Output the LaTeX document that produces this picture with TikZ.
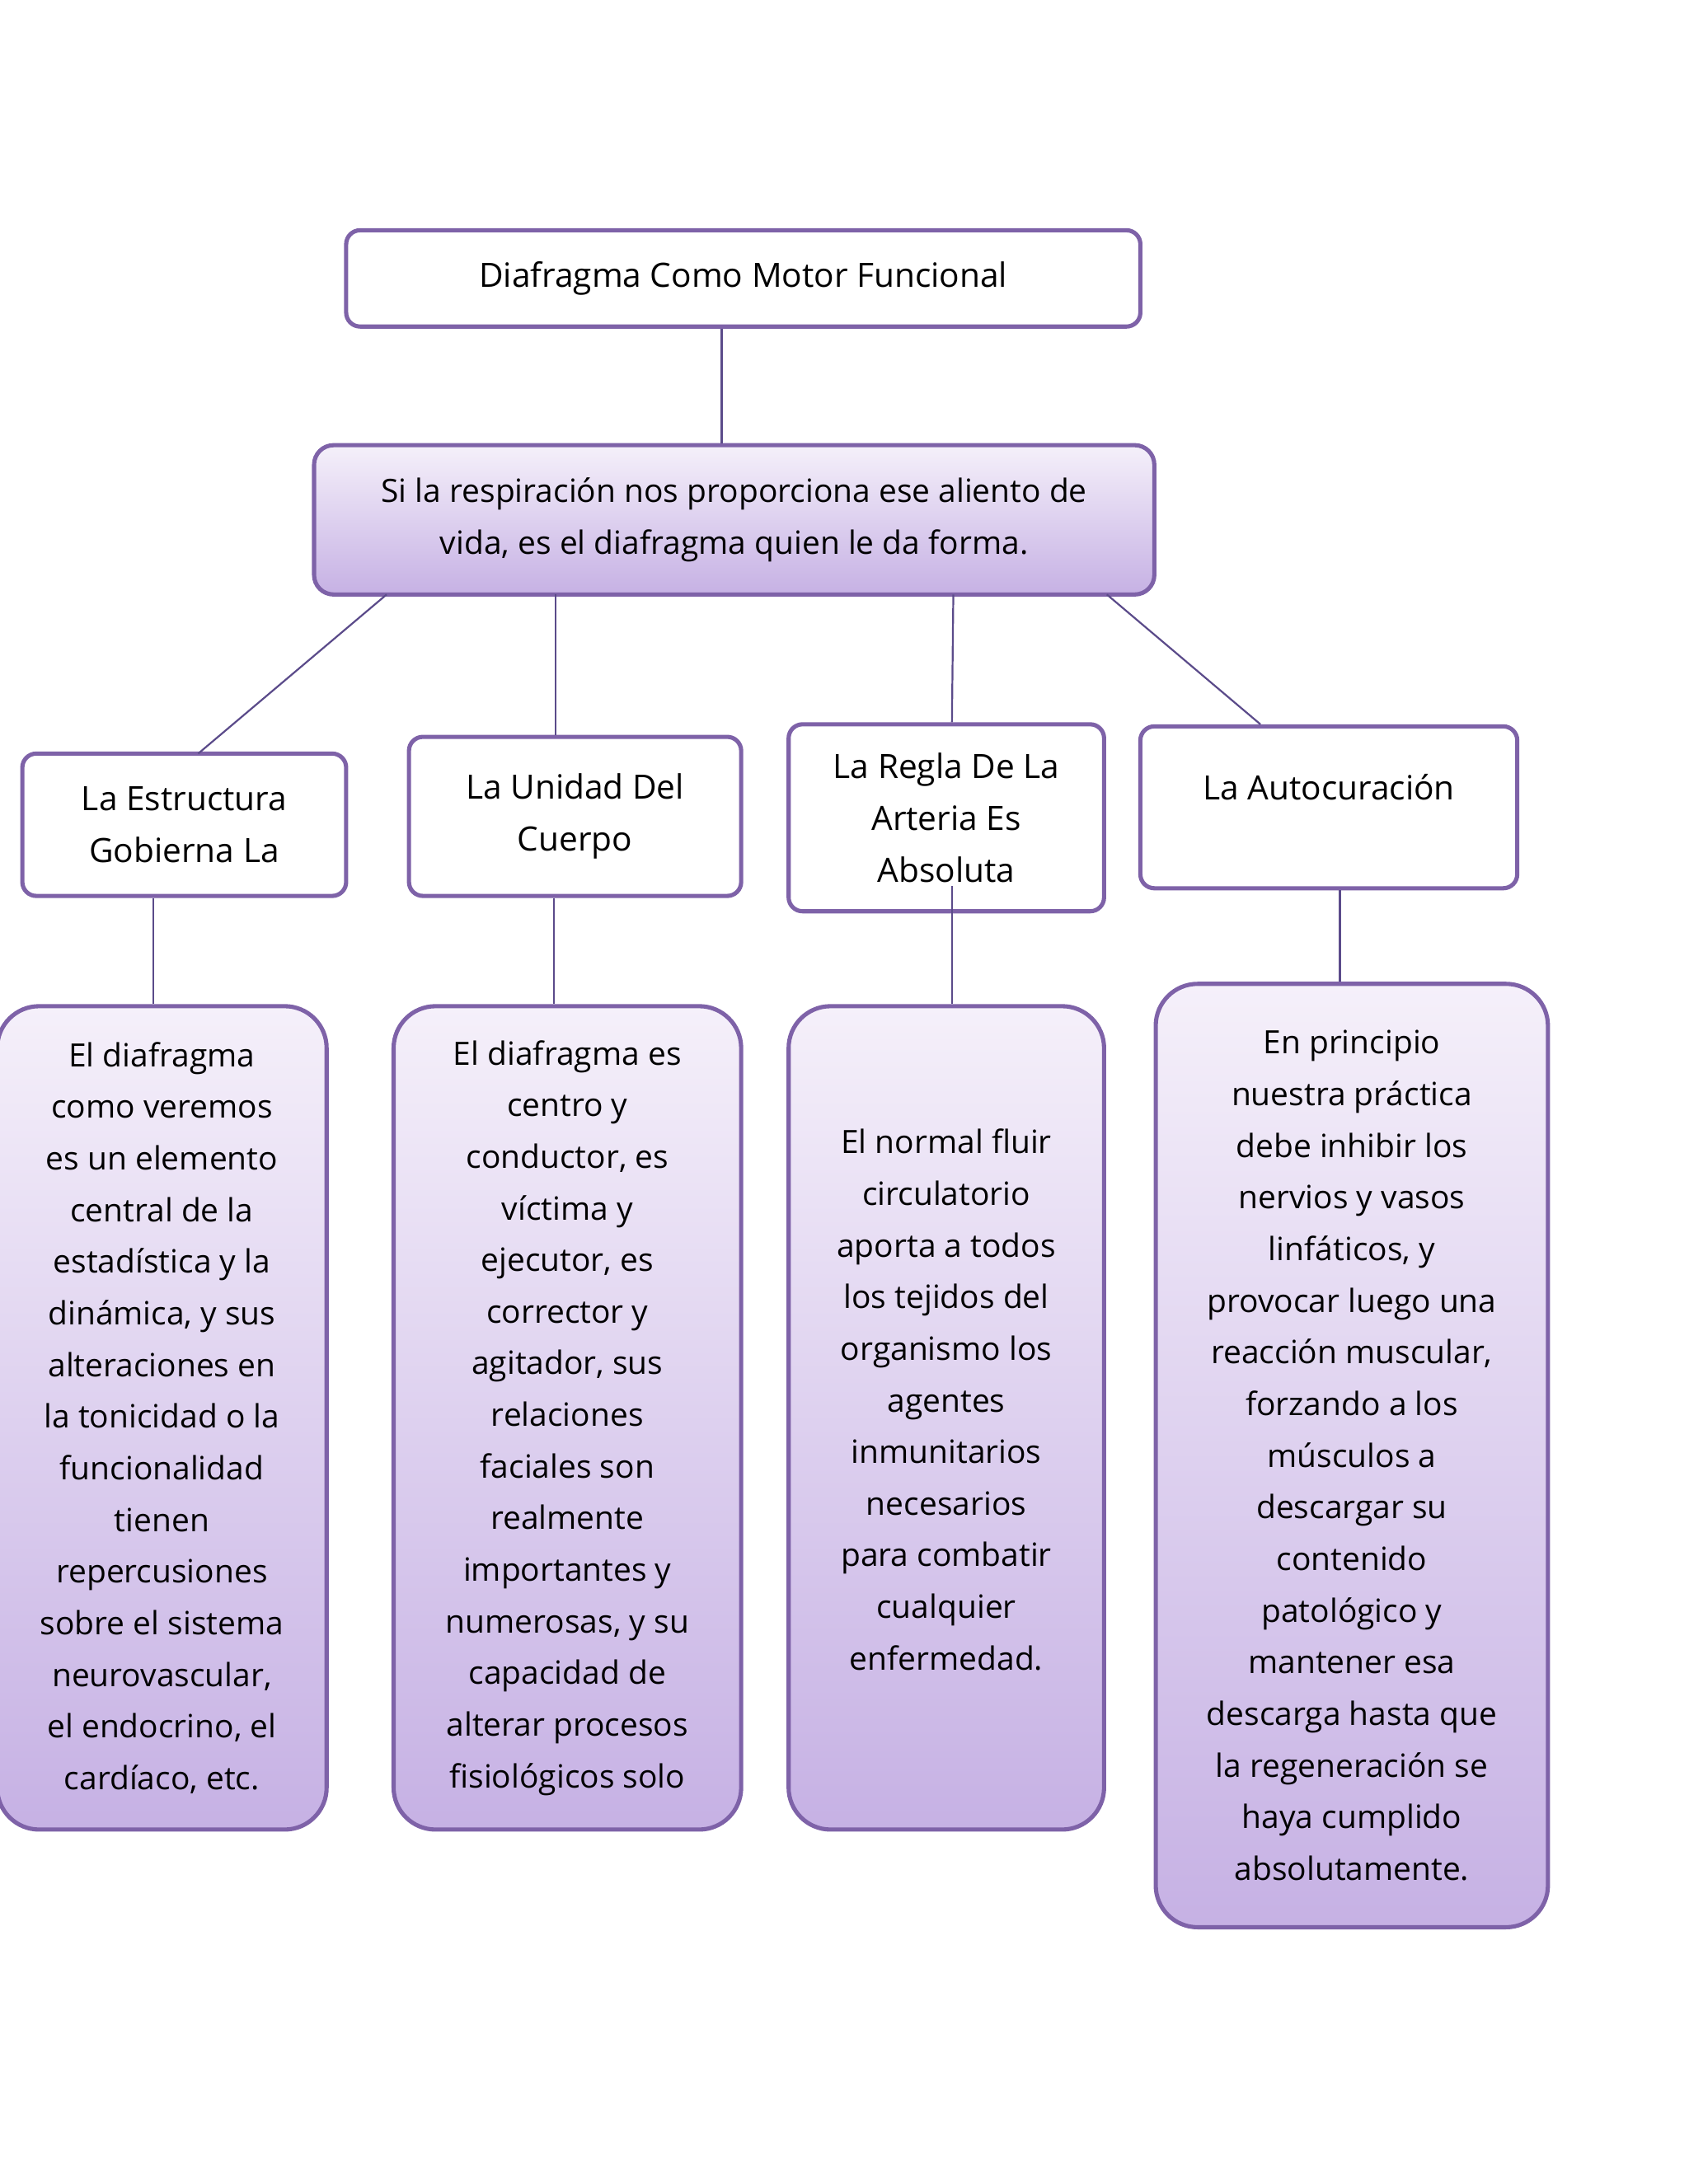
\documentclass[tikz,border=0pt]{standalone}
\usepackage{fontspec}
\setmainfont{Open Sans}
\begin{document}
\begin{tikzpicture}[x=1pt,y=-1pt,
  bd/.style={draw=bcol,line width=3pt,rounded corners=10pt,align=center,inner sep=0pt},
  wb/.style={bd,fill=white,font=\fontsize{24}{37}\selectfont},
  gb/.style={bd,rounded corners=30pt,top color=gtop,bottom color=gbot,font=\fontsize{23}{37}\selectfont},
  ln/.style={draw=lcol,line width=1.3pt}]
\definecolor{bcol}{HTML}{7E62A8}
\definecolor{lcol}{HTML}{5B4B8A}
\definecolor{gtop}{HTML}{F5F0FA}
\definecolor{gbot}{HTML}{C6B1E4}
\useasboundingbox (0,0) rectangle (1210,1565);
\fill[white] (0,0) rectangle (1210,1565);
\node[wb,minimum width=569pt,minimum height=69pt] (t) at (532.5,199.5) {Diafragma Como Motor Funcional};
\node[bd,rounded corners=14pt,top color=gtop,bottom color=gbot,minimum width=602pt,minimum height=107pt,font=\fontsize{23}{37}\selectfont] (s) at (526,372.5) {Si la respiración nos proporciona ese aliento de\\vida, es el diafragma quien le da forma.};
\node[wb,minimum width=232pt,minimum height=102pt] (a) at (132,591) {La Estructura\\Gobierna La};
\node[wb,minimum width=238pt,minimum height=114pt] (b) at (412,585) {La Unidad Del\\Cuerpo};
\node[wb,minimum width=226pt,minimum height=134pt] (c) at (678,586) {La Regla De La\\Arteria Es\\Absoluta};
\node[wb,minimum width=270pt,minimum height=116pt,anchor=north] (d) at (952,519) {};
\node[font=\fontsize{24}{37}\selectfont] at (952,564) {La Autocuración};
\node[gb,minimum width=236pt,minimum height=590pt] (a3) at (116,1016) {El diafragma\\como veremos\\es un  elemento\\central de la\\estadística y la\\dinámica, y sus\\alteraciones en\\la tonicidad o la\\funcionalidad\\tienen\\repercusiones\\sobre el sistema\\neurovascular,\\el endocrino, el\\cardíaco, etc.};
\node[gb,minimum width=249pt,minimum height=590pt] (b3) at (406.5,1016) {El diafragma es\\centro y\\conductor, es\\víctima y\\ejecutor, es\\corrector y\\agitador, sus\\relaciones\\faciales son\\realmente\\importantes y\\numerosas, y su\\capacidad de\\alterar procesos\\fisiológicos solo};
\node[gb,minimum width=226pt,minimum height=590pt] (c3) at (678,1016) {};
\node[font=\fontsize{23}{37}\selectfont,align=center] at (678,1003) {El normal fluir\\circulatorio\\aporta a todos\\los tejidos del\\organismo los\\agentes\\inmunitarios\\necesarios\\para combatir\\cualquier\\enfermedad.};
\node[gb,minimum width=281pt,minimum height=676pt] (d3) at (968.5,1043) {En principio\\nuestra práctica\\debe inhibir los\\nervios y vasos\\linfáticos, y\\provocar luego una\\reacción muscular,\\forzando a los\\músculos a\\descargar su\\contenido\\patológico y\\mantener esa\\descarga hasta que\\la regeneración se\\haya cumplido\\absolutamente.};
\draw[ln] (t.south -| 517,0) -- (s.north -| 517,0);
\draw[ln] (277,426) -- (142,540);
\draw[ln] (398,426) -- (b.north -| 398,0);
\draw[ln] (683,426) -- (c.north -| 682,0);
\draw[ln] (793,426) -- (903,519);
\draw[ln] (a.south -| 110,0) -- (a3.north -| 110,0);
\draw[ln] (b.south -| 397,0) -- (b3.north -| 397,0);
\draw[ln] (682,635) -- (c3.north -| 682,0);
\draw[ln] (d.south -| 960,0) -- (d3.north -| 960,0);
\end{tikzpicture}
\end{document}
